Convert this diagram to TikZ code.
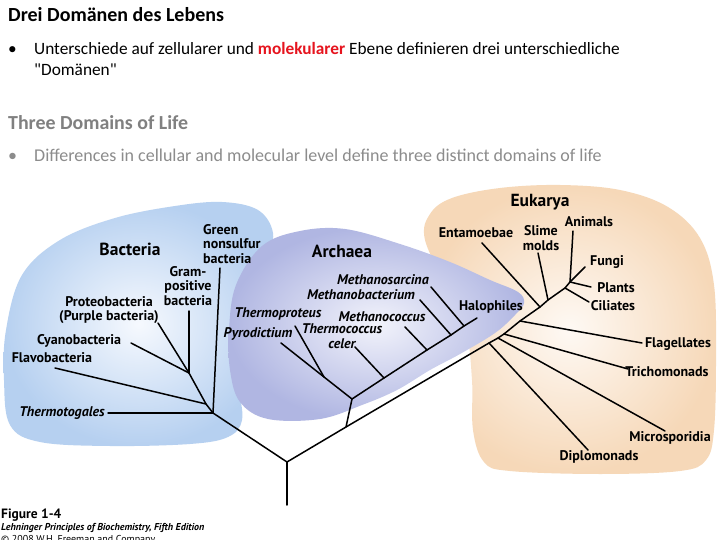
\documentclass[tikz,border=0pt]{standalone}
\usepackage{fontspec}
\setmainfont{Carlito}
\newfontfamily\figfont{PT Sans}
\newcommand\straightquote{\XeTeXglyph\XeTeXcharglyph"22\relax}
\definecolor{bactout}{RGB}{182,208,240}
\definecolor{bactin}{RGB}{246,249,254}
\definecolor{archout}{RGB}{176,182,226}
\definecolor{archin}{RGB}{242,243,251}
\definecolor{eukout}{RGB}{246,216,184}
\definecolor{eukin}{RGB}{254,249,244}
\definecolor{redword}{RGB}{230,20,30}
\definecolor{graytitle}{RGB}{128,128,128}
\definecolor{graytext}{RGB}{140,140,140}
\begin{document}
\begin{tikzpicture}[x=1pt,y=-1pt,
  branch/.style={line width=1.5pt, line cap=round, line join=round},
  lab/.style={font=\figfont\bfseries\fontsize{14}{14.5}\selectfont, inner sep=0pt, align=center},
  ilab/.style={lab, font=\figfont\bfseries\itshape\fontsize{14}{14.5}\selectfont},
  dom/.style={font=\figfont\bfseries\fontsize{17.5}{19}\selectfont, inner sep=0pt},
  slide/.style={anchor=base west, inner sep=0pt}]
\useasboundingbox (0,0) rectangle (720,540);
\fill[white] (0,0) rectangle (720,540);

% ---------- slide text ----------
\node[slide, font=\bfseries\fontsize{20}{24}\selectfont] (title1) at (8,22) {Drei Domänen des Lebens};
\node[slide, font=\fontsize{17.3}{20}\selectfont] (bul1) at (8,55) {•};
\node[slide, font=\fontsize{17.3}{20}\selectfont] (line1) at (34,55) {Unterschiede auf zellularer und \textcolor{redword}{\bfseries molekularer} Ebene definieren drei unterschiedliche};
\node[slide, font=\fontsize{17.3}{20}\selectfont] (line2) at (34,76) {\straightquote Domänen\straightquote};
\node[slide, font=\bfseries\fontsize{19.9}{24}\selectfont, text=graytitle] (title2) at (8,130) {Three Domains of Life};
\node[slide, font=\fontsize{18}{20}\selectfont, text=graytext] (bul2) at (8,162) {•};
\node[slide, font=\fontsize{18}{20}\selectfont, text=graytext] (line3) at (34,162) {Differences in cellular and molecular level define three distinct domains of life};

% ---------- domain blobs ----------
\shade[inner color=eukin, outer color=eukout]
  plot[smooth cycle, tension=0.6] coordinates {(425,240) (430,214) (452,198) (500,188) (560,185) (620,190) (668,207) (700,238) (714,285) (716,360) (714,430) (706,460) (680,471) (600,474) (510,471) (484,462) (473,430) (472,380) (466,330) (448,290)};
\shade[inner color=bactin, outer color=bactout]
  plot[smooth cycle, tension=0.6] coordinates {(6,330) (22,275) (60,240) (115,218) (175,206) (222,202) (258,210) (273,233) (266,260) (248,290) (238,330) (239,385) (242,420) (228,437) (190,444) (110,446) (40,442) (10,425) (4,380)};
\shade[inner color=archin, outer color=archout]
  plot[smooth cycle, tension=0.6] coordinates {(229,330) (236,285) (262,246) (300,231) (345,229) (400,244) (450,262) (490,280) (518,292) (524,303) (515,315) (495,333) (460,354) (430,370) (397,390) (362,405) (320,419) (268,419) (240,402) (230,370)};

% ---------- junctions and leaf ends ----------
\coordinate (R) at (287,462);
\coordinate (Rb) at (287,505);
% Bacteria
\coordinate (B0) at (213,413);
\coordinate (BF) at (206,404);
\coordinate (B1) at (189,373);
\coordinate (tT) at (108,413);
\coordinate (tF) at (55,368);
\coordinate (tC) at (131,343);
\coordinate (tP) at (158,323);
\coordinate (tG) at (189,311);
\coordinate (tN) at (220,268);
% Archaea
\coordinate (A0) at (346,427);
\coordinate (A1) at (352,399);
\coordinate (jTp) at (324,377);
\coordinate (tPy) at (281,343);
\coordinate (tTp) at (295,326);
\coordinate (jTc) at (384,378);
\coordinate (jMc) at (427,350);
\coordinate (jMb) at (451,335);
\coordinate (jMs) at (464,326);
\coordinate (tH) at (477,318);
\coordinate (tTc) at (355,347);
\coordinate (tMc) at (405,327);
\coordinate (tMb) at (420,300);
\coordinate (tMs) at (431,287);
% Eukarya
\coordinate (jDi) at (489,343);
\coordinate (jMi) at (498,338);
\coordinate (jTr) at (504,334);
\coordinate (jFl) at (520,321);
\coordinate (jEn) at (540,307);
\coordinate (jSm) at (548,300);
\coordinate (jPC) at (565,288);
\coordinate (jAF) at (570,282);
\coordinate (tFu) at (585,267);
\coordinate (tAn) at (573,231);
\coordinate (tPl) at (591,287);
\coordinate (tCi) at (589,302);
\coordinate (tEn) at (482,243);
\coordinate (tSm) at (538,253);
\coordinate (tFl) at (642,343);
\coordinate (tTr) at (628,369);
\coordinate (tMi) at (665,431);
\coordinate (tDi) at (588,450);

% ---------- branches ----------
\draw[branch] (Rb) -- (R);
\draw[branch] (R) -- (B0) -- (BF) -- (B1);
\draw[branch] (tT) -- (B0);
\draw[branch] (tF) -- (BF);
\draw[branch] (tC) -- (B1);
\draw[branch] (tP) -- (B1);
\draw[branch] (tG) -- (B1);
\draw[branch] (tN) -- (B0);

\draw[branch] (R) -- (A0) -- (jDi) -- (jMi) -- (jTr) -- (jFl) -- (jEn) -- (jSm) -- (jPC) -- (jAF) -- (tFu);
\draw[branch] (A0) -- (A1);
\draw[branch] (tPy) -- (jTp) -- (A1);
\draw[branch] (tTp) -- (jTp);
\draw[branch] (A1) -- (jTc) -- (jMc) -- (jMb) -- (jMs) -- (tH);
\draw[branch] (tTc) -- (jTc);
\draw[branch] (tMc) -- (jMc);
\draw[branch] (tMb) -- (jMb);
\draw[branch] (tMs) -- (jMs);

\draw[branch] (tAn) -- (jAF);
\draw[branch] (tPl) -- (jAF);
\draw[branch] (tCi) -- (jPC);
\draw[branch] (tEn) -- (jEn);
\draw[branch] (tSm) -- (jSm);
\draw[branch] (tFl) -- (jFl);
\draw[branch] (tTr) -- (jTr);
\draw[branch] (tMi) -- (jMi);
\draw[branch] (tDi) -- (jDi);

% ---------- labels ----------
\node[dom] (bacteria) at (130,249) {Bacteria};
\node[dom] (archaea) at (342,251) {Archaea};
\node[dom] (eukarya) at (540,202) {Eukarya};

\node[lab, anchor=west, align=left] (green) at (203,244) {Green\\nonsulfur\\bacteria};
\node[lab] (gram) at (188,286) {Gram-\\positive\\bacteria};
\node[lab] (proteo) at (109,310) {Proteobacteria\\(Purple bacteria)};
\node[lab] (cyano) at (79,341) {Cyanobacteria};
\node[lab] (flavo) at (52,358) {Flavobacteria};
\node[ilab] (thermotogales) at (62,413) {Thermotogales};

\node[ilab] (msarcina) at (383,280) {Methanosarcina};
\node[ilab] (mbacterium) at (361,295) {Methanobacterium};
\node[ilab] (tproteus) at (278,314) {Thermoproteus};
\node[ilab] (mcoccus) at (382,317) {Methanococcus};
\node[ilab] (tcoccus) at (342,336) {Thermococcus\\celer};
\node[ilab] (pyro) at (258,334) {Pyrodictium};
\node[lab] (halo) at (491,307) {Halophiles};

\node[lab] (entam) at (476,233) {Entamoebae};
\node[lab] (slime) at (541,238) {Slime\\molds};
\node[lab] (animals) at (589,222) {Animals};
\node[lab] (fungi) at (607,262) {Fungi};
\node[lab] (plants) at (616,288) {Plants};
\node[lab] (ciliates) at (613,306) {Ciliates};
\node[lab] (flag) at (678,344) {Flagellates};
\node[lab] (tricho) at (667,372) {Trichomonads};
\node[lab] (micro) at (670,438) {Microsporidia};
\node[lab] (diplo) at (599,457) {Diplomonads};

% ---------- caption ----------
\node[slide, font=\figfont\bfseries\fontsize{13.5}{15}\selectfont] (fig) at (1,518) {Figure 1-4};
\node[slide, font=\figfont\bfseries\itshape\fontsize{10}{11}\selectfont] (book) at (1,530) {Lehninger Principles of Biochemistry, Fifth Edition};
\node[slide, font=\figfont\fontsize{10}{11}\selectfont] (copy) at (1,542) {© 2008 W.H. Freeman and Company};
\end{tikzpicture}
\end{document}
